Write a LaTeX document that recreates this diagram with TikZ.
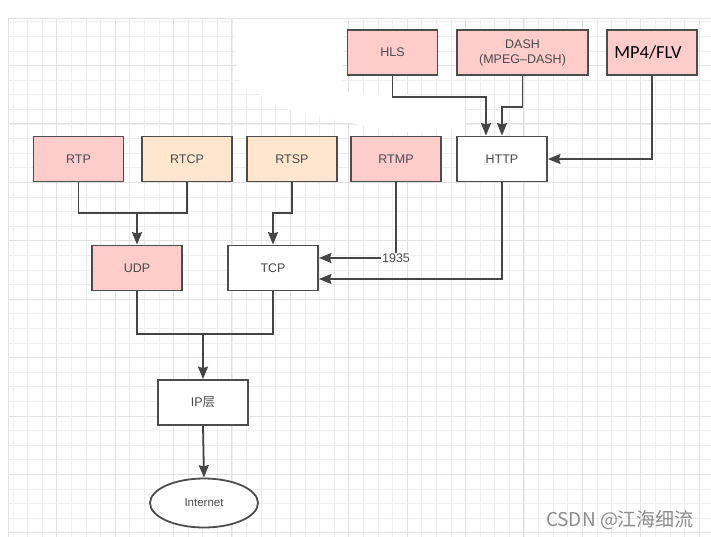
\documentclass[tikz,border=0pt]{standalone}
\usepackage{fontspec}
\usetikzlibrary{arrows.meta,shapes.geometric}
\newfontfamily\lsans{Liberation Sans}
\newfontfamily\cjkf{Noto Sans CJK SC}
\newfontfamily\carl{Carlito}
\definecolor{gridminor}{HTML}{EEEEEE}
\definecolor{gridmajor}{HTML}{E2E2E2}
\definecolor{boxline}{HTML}{4D4D4D}
\definecolor{connline}{HTML}{454545}
\definecolor{txtgray}{HTML}{4A4A4A}
\definecolor{pinkfill}{HTML}{FFCCCC}
\definecolor{peachfill}{HTML}{FFE6CC}
\definecolor{wmark}{HTML}{8C8C8C}
\tikzset{
  box/.style={draw=boxline, line width=1.8pt, minimum width=90pt, minimum height=45pt,
    inner sep=0pt, font=\lsans\fontsize{12.5}{14}\selectfont, text=txtgray, align=center},
  pinkbox/.style={box, fill=pinkfill},
  peachbox/.style={box, fill=peachfill},
  whitebox/.style={box, fill=white},
  conn/.style={draw=connline, line width=1.8pt},
  arr/.style={conn, -{Stealth[length=12.5pt,width=10pt,inset=1.5pt]}},
  lbl/.style={fill=white, inner sep=1pt, font=\lsans\fontsize{12.5}{14}\selectfont, text=txtgray}
}
\begin{document}
\begin{tikzpicture}[x=1pt,y=-1pt]
\useasboundingbox (0,0) rectangle (711,537);
\fill[white] (0,0) rectangle (711,537);
% grid
\foreach \i in {0,...,47} { \draw[gridminor, line width=0.8pt] ({12.9+14.6*\i},19) -- (12.9+14.6*\i,537); }
\foreach \i in {0,...,35} { \draw[gridminor, line width=0.8pt] (8,{21.8+14.6*\i}) -- (711,{21.8+14.6*\i}); }
\foreach \i in {0,...,11} { \draw[gridmajor, line width=1pt] ({56.7+58.4*\i},19) -- ({56.7+58.4*\i},537); }
\foreach \i in {0,...,8} { \draw[gridmajor, line width=1pt] (8,{65.6+58.4*\i}) -- (711,{65.6+58.4*\i}); }
\draw[gridmajor, line width=1pt] (8,19) -- (711,19);
\draw[gridmajor, line width=1pt] (8,19) -- (8,537);
% erased patch
\fill[white] (234,19) -- (344,19) -- (342,92) -- (395,94) -- (465,98) -- (465,128) -- (395,133) -- (330,118) -- (280,108) -- (268,97) -- (242,88) -- (236,60) -- cycle;
% nodes
\node[pinkbox] (hls) at (392.5,52.5) {HLS};
\node[pinkbox, minimum width=131pt] (dash) at (522.5,52.5) {DASH\\[1pt](MPEG–DASH)};
\node[pinkbox] (mp4) at (652,52.5) {\carl\fontsize{18.5}{20}\selectfont\color{black}MP4/FLV\hspace*{8pt}};
\node[pinkbox] (rtp) at (78.5,159) {RTP};
\node[peachbox] (rtcp) at (187,159) {RTCP};
\node[peachbox] (rtsp) at (292,159) {RTSP};
\node[pinkbox] (rtmp) at (396,159) {RTMP};
\node[whitebox] (http) at (502,159) {HTTP};
\node[pinkbox] (udp) at (137,268) {UDP};
\node[whitebox] (tcp) at (273,268) {TCP};
\node[whitebox] (ip) at (203,402.5) {IP{\cjkf 层}};
\node[ellipse, draw=boxline, line width=1.8pt, fill=white, minimum width=108pt, minimum height=49pt, inner sep=0pt,
  font=\lsans\fontsize{11.5}{13}\selectfont, text=txtgray] (inet) at (204,503) {Internet};
% connectors
\draw[arr] (hls.south) -- ++(0,21) -| ([xshift=-16pt]http.north);
\draw[arr] (dash.south) -- ++(0,31) -| (http.north);
\draw[arr] (mp4.south) |- (http.east);
\coordinate (j1) at (137,213);
\draw[conn] (rtp.south) |- (j1) -| (rtcp.south);
\draw[arr] (j1) -- (udp.north);
\draw[arr] (rtsp.south) -- ++(0,31) -| (tcp.north);
\draw[arr] (rtmp.south) |- node[lbl, pos=0.5] (p1935) {1935} ([yshift=10pt]tcp.east);
\draw[arr] (http.south) |- ([yshift=-11pt]tcp.east);
\coordinate (j2) at (203,334);
\draw[conn] (udp.south) |- (j2) -| (tcp.south);
\draw[arr] (j2) -- (ip.north);
\draw[arr] (ip.south) -- (inet.north);
% watermark
\node[text=wmark, font=\cjkf\fontsize{19}{21}\selectfont, inner sep=0pt] (wm) at (620,520) {CSDN @江海细流};
\end{tikzpicture}
\end{document}
